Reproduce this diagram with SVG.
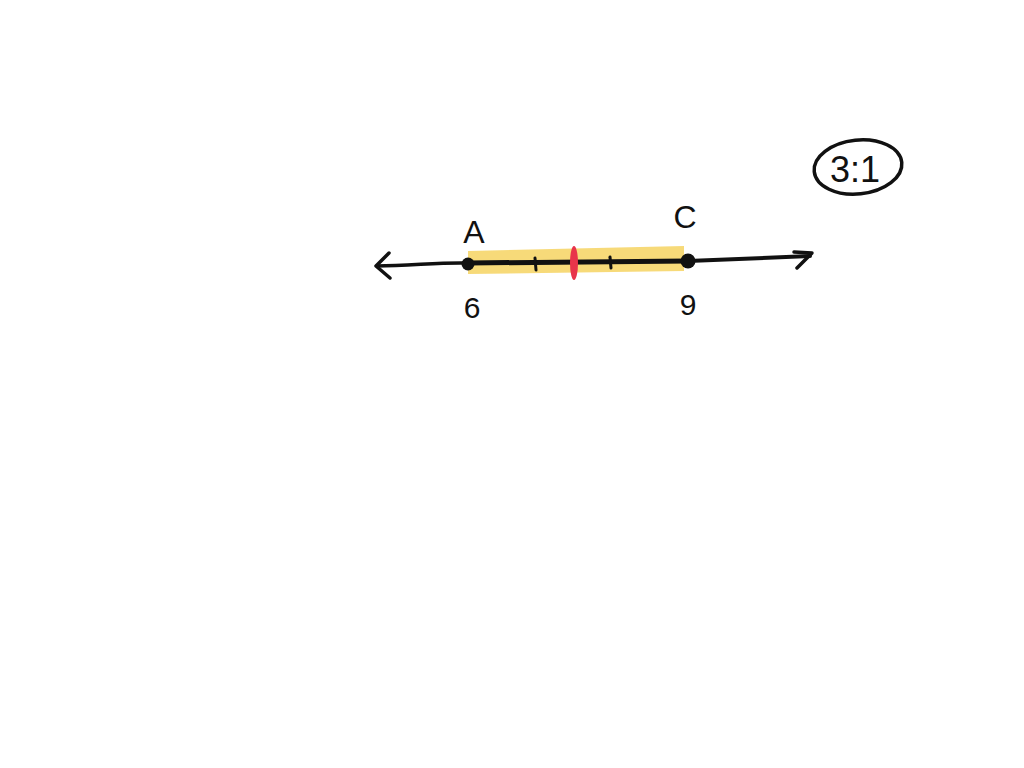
<svg xmlns="http://www.w3.org/2000/svg" width="1024" height="768" viewBox="0 0 1024 768">
<style>
.ink{fill:none;stroke:#111;stroke-linecap:round;stroke-linejoin:round}
.lbl{font-family:"Liberation Sans","DejaVu Sans",sans-serif;fill:#111;text-anchor:middle}
</style>
<rect width="1024" height="768" fill="#fff"/>
<g id="highlight">
<path d="M468,251 L684,246 L684,271 L468,274 Z" fill="#F6D66A" opacity="0.9"/>
</g>
<g id="connectors">
<path class="ink" stroke-width="3.5" d="M377,266 C410,266 440,262 468,263"/>
<path class="ink" stroke-width="5" d="M468,263 L688,261"/>
<path class="ink" stroke-width="4" d="M688,261 L810,256"/>
<path class="ink" stroke-width="3.5" d="M389,253 L376,266 L390,278"/>
<path class="ink" stroke-width="3.5" d="M794,252 L812,253 L797,268"/>
<path class="ink" stroke-width="3" d="M535,258 L536,270"/>
<path class="ink" stroke-width="3" d="M610,257 L611,268"/>
</g>
<g id="midpoint">
<ellipse cx="574" cy="263" rx="4" ry="17" fill="#E8344A"/>
</g>
<g id="nodeA">
<circle cx="468" cy="264" r="6.5" fill="#111"/>
<text class="lbl" x="474" y="243" font-size="32">A</text>
<text class="lbl" x="472" y="318" font-size="30">6</text>
</g>
<g id="nodeC">
<circle cx="688" cy="261" r="7.5" fill="#111"/>
<text class="lbl" x="685" y="228" font-size="32">C</text>
<text class="lbl" x="688" y="315" font-size="30">9</text>
</g>
<g id="ratio">
<ellipse class="ink" stroke-width="3.5" cx="858" cy="167" rx="44" ry="27" transform="rotate(-6 858 167)"/>
<text class="lbl" x="855" y="182" font-size="36">3:1</text>
</g>
</svg>
